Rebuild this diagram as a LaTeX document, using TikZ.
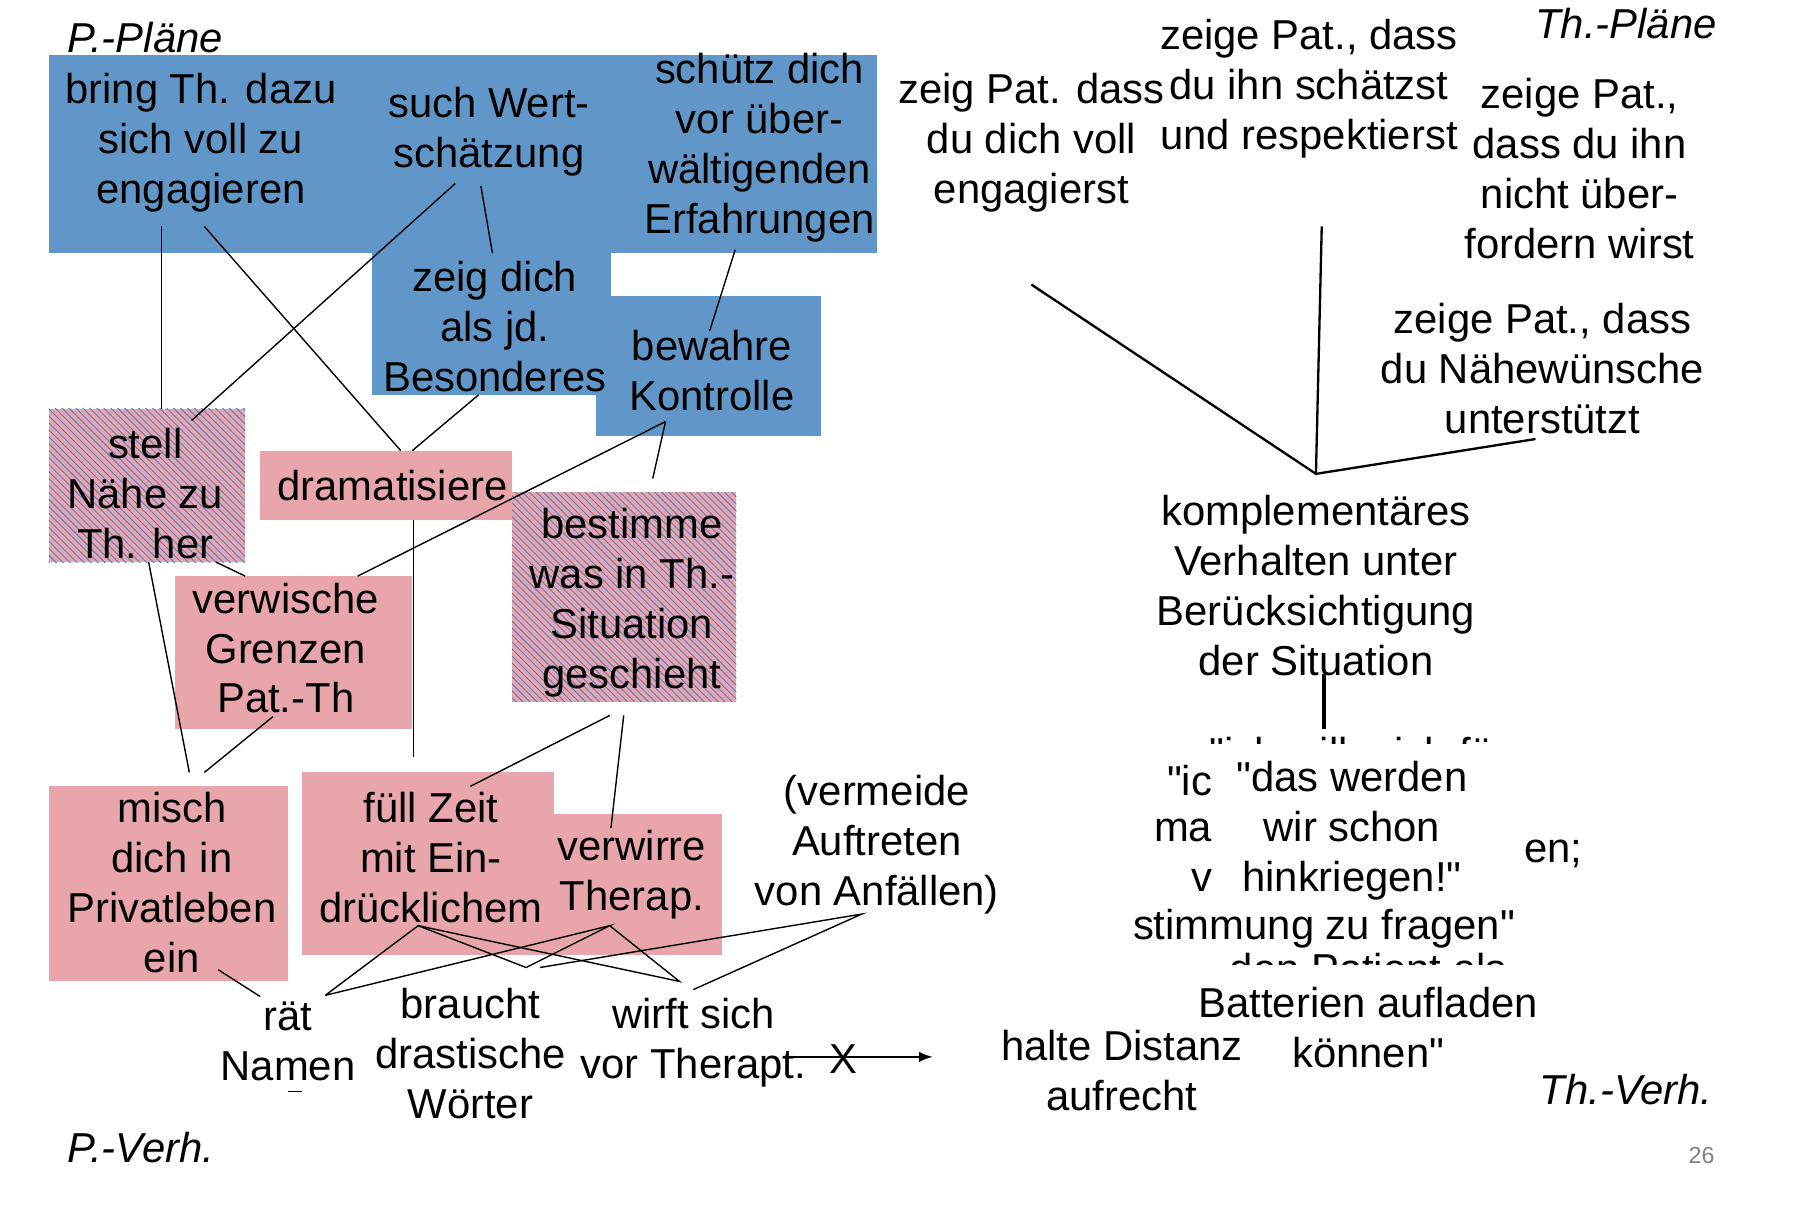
\documentclass[tikz,border=0pt]{standalone}
\usepackage{fontspec}
\setmainfont{Liberation Sans}[Ligatures=TeXOff]
\usetikzlibrary{patterns}
\definecolor{pblue}{HTML}{6197C8}
\definecolor{ppink}{HTML}{E8A6AC}
\definecolor{hblue}{HTML}{5A7FC0}
\newcommand\dq{"}
\begin{document}
\begin{tikzpicture}[x=0.5pt,y=-0.5pt,
  txt/.style={font=\fontsize{18}{21.5}\selectfont,align=center,inner sep=0pt},
  it/.style={font=\fontsize{18}{21.5}\selectfont\itshape,inner sep=0pt},
  ln/.style={draw=black,line width=0.6pt},
  hatch/.style={preaction={fill=ppink},pattern=north west lines,pattern color=hblue}]
\useasboundingbox (0,0) rectangle (1567,1042);
% boxes
\fill[pblue] (42,47) rectangle (755,218);
\fill[pblue] (320,217) rectangle (526,340);
\fill[pblue] (513,255) rectangle (707,375);
\path[hatch] (42,352) rectangle (211,484);
\fill[ppink] (224,388) rectangle (441,448);
\path[hatch] (441,424) rectangle (634,604);
\fill[ppink] (151,496) rectangle (355,628);
\fill[ppink] (42,677) rectangle (248,845);
\fill[ppink] (260,665) rectangle (477,822);
\fill[ppink] (476,701) rectangle (622,822);
% texts
\node[it,anchor=west] (pp) at (58,32) {P.-Pläne};
\node[it] (tp) at (1400,20) {Th.-Pläne};
\node[it] (tv) at (1400,938) {Th.-Verh.};
\node[it,anchor=west] (pv) at (58,988) {P.-Verh.};
\node[font=\fontsize{10}{12}\selectfont,text=gray,inner sep=0] (pg) at (1465,995) {26};
\node[txt] (bring) at (173,123) {bring Th. dazu\\sich voll zu\\engagieren};
\node[txt] (such) at (421,113) {such Wert-\\schätzung};
\node[txt] (schutz) at (654,127) {schütz dich\\vor über-\\wältigenden\\Erfahrungen};
\node[txt] (zeig) at (426,281) {zeig dich\\als jd.\\Besonderes};
\node[txt] (bewahre) at (613,319) {bewahre\\Kontrolle};
\node[txt] (stell) at (125,425) {stell\\Nähe zu\\Th. her};
\node[txt] (drama) at (338,418) {dramatisiere};
\node[txt] (best) at (544,519) {bestimme\\was in Th.-\\Situation\\geschieht};
\node[txt] (verw) at (246,558) {verwische\\Grenzen\\Pat.-Th};
\node[txt] (misch) at (148,760) {misch\\dich in\\Privatleben\\ein};
\node[txt] (full) at (371,738) {füll Zeit\\mit Ein-\\drücklichem};
\node[txt] (verwirre) at (544,753) {verwirre\\Therap.};
\node[txt] (verm) at (755,727) {(vermeide\\Auftreten\\von Anfällen)};
\node[txt] (rat) at (248,897) {rät\\Namen};
\node[txt] (braucht) at (405,907) {braucht\\drastische\\Wörter};
\node[txt] (wirft) at (597,898) {wirft sich\\vor Therapt.};
\node[txt] (halte) at (966,922) {halte Distanz\\aufrecht};
\node[txt] (zpd) at (1127,76) {zeige Pat., dass\\du ihn schätzst\\und respektierst};
\node[txt] (zpv) at (888,123) {zeig Pat. dass\\du dich voll\\engagierst};
\node[txt] (zpu) at (1360,145) {zeige Pat.,\\dass du ihn\\nicht über-\\fordern wirst};
\node[txt] (zpn) at (1328,317) {zeige Pat., dass\\du Nähewünsche\\unterstützt};
\node[txt] (komp) at (1133,504) {komplementäres\\Verhalten unter\\Berücksichtigung\\der Situation};
% layered quotes
\begin{scope}
\clip (980,625) rectangle (1300,640);
\node[txt] (q0) at (1170,648) {\dq ich will mich für};
\end{scope}
\begin{scope}
\clip (1040,815) rectangle (1300,830);
\node[txt] (q9) at (1178,834) {den Patient als};
\end{scope}
\node[txt,anchor=east] (q1) at (1044,672) {\dq ic};
\node[txt,anchor=east] (q2) at (1044,715) {ma};
\node[txt,anchor=east] (q3) at (1044,758) {v};
\node[txt,anchor=west] (q4) at (1312,735) {en;};
\node[txt] (front) at (1164,715) {\dq das werden\\wir schon\\hinkriegen!\dq};
\node[txt] (stim) at (1140,800) {stimmung zu fragen\dq};
\node[txt] (batt) at (1178,885) {Batterien aufladen\\können\dq};
% connectors
\begin{scope}[ln]
\draw (139,195) -- (139,352);
\draw (176,195) -- (345,388);
\draw (392,158) -- (165,362);
\draw (414,160) -- (424,218);
\draw (633,215) -- (611,285);
\draw (412,340) -- (355,388);
\draw (573,363) -- (308,496);
\draw (573,363) -- (562,412);
\draw (186,484) -- (211,496);
\draw (128,484) -- (163,665);
\draw (356,448) -- (356,652);
\draw (235,617) -- (176,665);
\draw (525,616) -- (405,677);
\draw (537,616) -- (526,713);
\draw (188,835) -- (224,858);
\draw (280,857) -- (360,797) -- (453,833) -- (525,797) -- (280,857);
\draw (360,797) -- (585,845) -- (525,797);
\draw (465,833) -- (742,787) -- (597,852);
\draw (248,940) -- (260,940);
\draw[line width=1pt] (888,245) -- (1133,408) -- (1322,378);
\draw[line width=1pt] (1138,195) -- (1133,408);
\draw[line width=2pt] (1140,580) -- (1140,628);
\draw[line width=1pt,-latex] (680,910) -- (803,910);
\end{scope}
\node[txt] (x) at (726,912) {X};
\end{tikzpicture}
\end{document}
